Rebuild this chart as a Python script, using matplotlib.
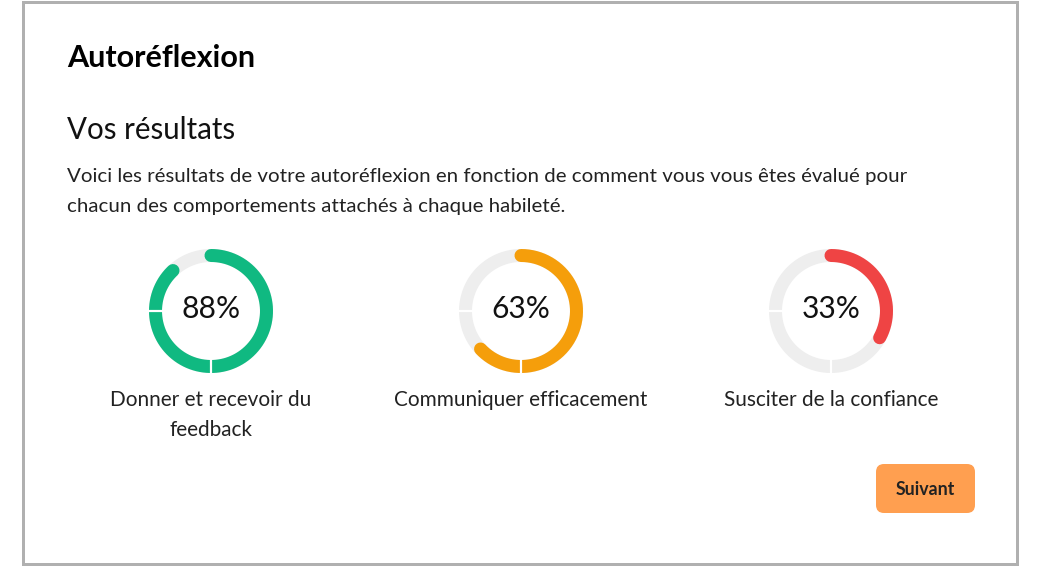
import numpy as np
import matplotlib.pyplot as plt
from matplotlib.patches import FancyBboxPatch, Rectangle

plt.rcParams['font.family'] = ['Lato', 'DejaVu Sans']

# data
skills = [["Donner et recevoir du", "feedback"], ["Communiquer efficacement"], ["Susciter de la confiance"]]
scores = [88, 63, 33]
colors = ["#10B981", "#F59E0B", "#EF4444"]

title = "Autoréflexion"
subtitle = "Vos résultats"
intro = ["Voici les résultats de votre autoréflexion en fonction de comment vous vous êtes évalué pour",
         "chacun des comportements attachés à chaque habileté."]
button_label = "Suivant"

W, H = 1041, 566
fig = plt.figure(figsize=(W / 100, H / 100), dpi=100)
ax = fig.add_axes([0, 0, 1, 1])
ax.set_xlim(0, W)
ax.set_ylim(H, 0)
ax.axis('off')

px = 0.72  # points per pixel at dpi 100

# card border
ax.add_patch(Rectangle((22.5, 1.5), 994, 562, fill=False, edgecolor="#B0B0B0", lw=3 * px))

ax.text(67, 67, title, fontsize=30.5 * px, fontweight='bold', color="#000000", va='baseline')
ax.text(67, 139, subtitle, fontsize=29.5 * px, color="#111111", va='baseline')
for k, line in enumerate(intro):
    ax.text(67, 182 + k * 30, line, fontsize=20.5 * px, color="#222222", va='baseline')

# donuts
r = 55.5
ring_w = 13
cx0, cy = 211, 311
step = 310
t = np.linspace(0, 2 * np.pi, 400)
for i, (name, val, col) in enumerate(zip(skills, scores, colors)):
    cx = cx0 + i * step
    ax.plot(cx + r * np.cos(t), cy + r * np.sin(t), color="#EEEEEE", lw=ring_w * px, zorder=2)
    # arc clockwise from 12 o'clock (y axis is inverted)
    a = -np.pi / 2 + np.linspace(0, 2 * np.pi * val / 100, 300)
    ax.plot(cx + r * np.cos(a), cy + r * np.sin(a), color=col, lw=ring_w * px,
            solid_capstyle='round', zorder=3)
    # white separators at 6 and 9 o'clock
    ax.plot([cx, cx], [cy + r - 8, cy + r + 8], color='white', lw=2.2 * px, zorder=4)
    ax.plot([cx - r - 8, cx - r + 8], [cy, cy], color='white', lw=2.2 * px, zorder=4)
    ax.text(cx, 318, f"{val}%", fontsize=30 * px, color="#111111", ha='center', va='baseline')
    for k, line in enumerate(name):
        ax.text(cx, 406 + k * 30, line, fontsize=20.8 * px, color="#222222",
                ha='center', va='baseline')

# button
ax.add_patch(FancyBboxPatch((876, 464), 99, 49, boxstyle="round,pad=0,rounding_size=8",
                            facecolor="#FF9F50", edgecolor='none'))
ax.text(925.5, 489.5, button_label, fontsize=17.8 * px, fontweight='bold', color="#222222",
        ha='center', va='center')

fig.savefig("out.png", dpi=100)
